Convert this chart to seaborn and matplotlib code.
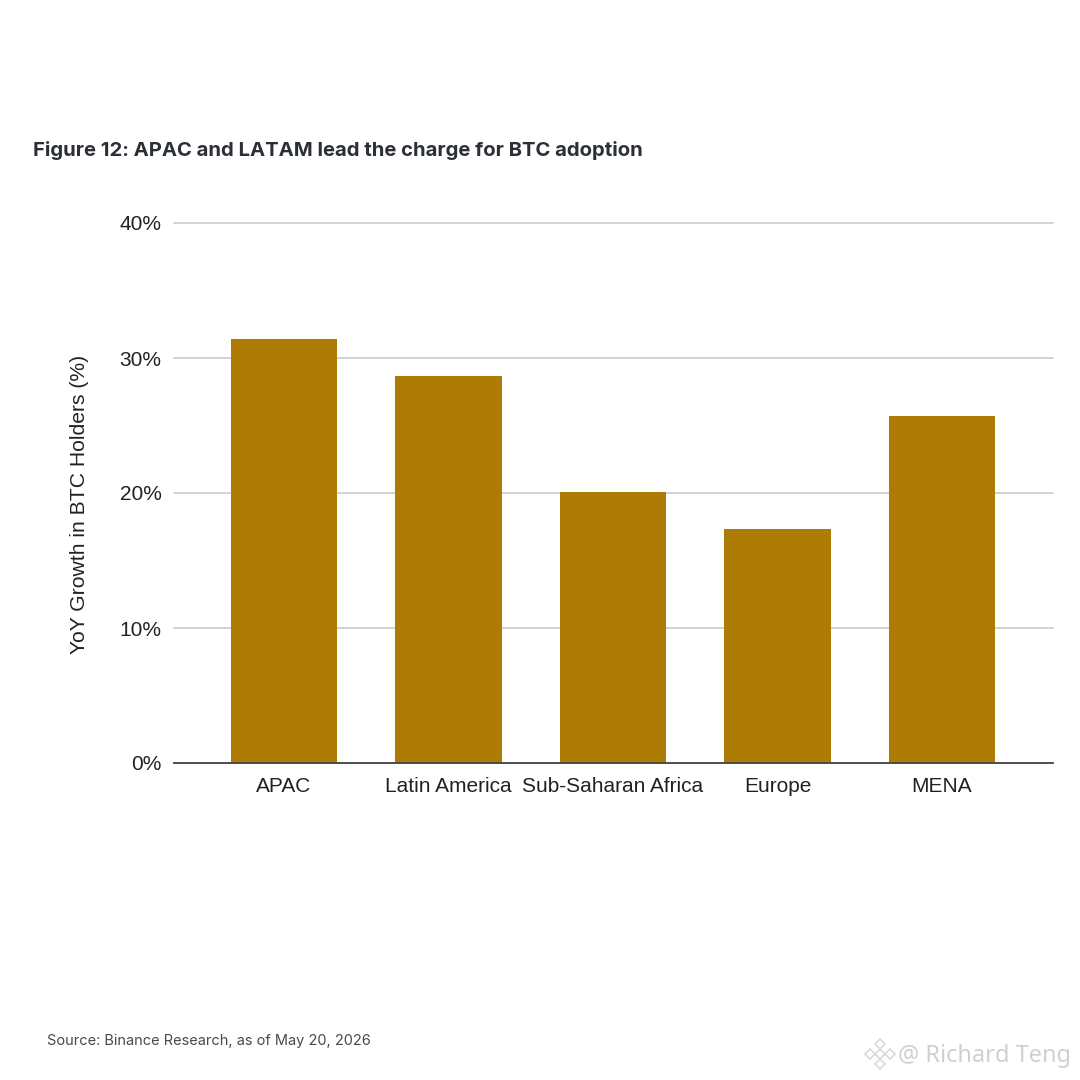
import seaborn as sns
import matplotlib.pyplot as plt
from matplotlib.lines import Line2D
import pandas as pd

regions = ['APAC', 'Latin America', 'Sub-Saharan Africa', 'Europe', 'MENA']
growth = [31.4, 28.7, 20.1, 17.35, 25.7]
y_ticks = [0, 10, 20, 30, 40]
y_labels = ['0%', '10%', '20%', '30%', '40%']

sns.set_theme(style='white')
plt.rcParams['font.family'] = ['Liberation Sans', 'DejaVu Sans']

df = pd.DataFrame({'region': regions, 'growth': growth})

fig = plt.figure(figsize=(10.8, 10.8), dpi=100)
# plot area in figure pixels: x 174-1053, y 223-763
ax = fig.add_axes([174 / 1080, 1 - 763 / 1080, 879 / 1080, 540 / 1080])

sns.barplot(data=df, x='region', y='growth', color='#AE7B05', saturation=1, width=0.65, linewidth=0, ax=ax)

ax.set_ylim(0, 40)
ax.set_xlim(-0.669, 4.675)
ax.set_yticks(y_ticks)
ax.set_yticklabels(y_labels, fontsize=15, color='#222222')
ax.tick_params(axis='x', labelsize=15, labelcolor='#222222', pad=10, length=0)
ax.tick_params(axis='y', length=0, pad=9)
ax.grid(axis='y', color='#CFCFCF', linewidth=1.3, clip_on=False)
ax.set_axisbelow(True)
ax.set_xlabel('')
ax.set_ylabel('YoY Growth in BTC Holders (%)', fontsize=15.2, color='#222222')
ax.yaxis.set_label_coords(-85 / 879, 0.479)
sns.despine(ax=ax, left=True)
ax.spines['bottom'].set_color('#444444')
ax.spines['bottom'].set_linewidth(1.3)

fig.text(33 / 1080, 1 - 151 / 1080, 'Figure 12: APAC and LATAM lead the charge for BTC adoption',
         fontsize=14.6, fontweight='bold', color='#2B2F36', va='center', family=['Inter', 'DejaVu Sans'])
fig.text(47 / 1080, 1 - 1041 / 1080, 'Source: Binance Research, as of May 20, 2026',
         fontsize=10.5, color='#4A4A4A', va='center', family=['Inter', 'DejaVu Sans'])
fig.text(898 / 1080, 1 - 1056 / 1080, '@ Richard Teng', fontsize=17, color='#D0D0D0', va='center',
         family=['Noto Sans', 'DejaVu Sans'])

# watermark logo, small diamonds around a centre one
logo_x = [880, 880, 870, 890, 880]
logo_y = [1044, 1064, 1054, 1054, 1054]
for px, py in zip(logo_x, logo_y):
    fig.add_artist(Line2D([px / 1080], [1 - py / 1080], marker='D', markersize=5, markerfacecolor='none',
                          markeredgecolor='#DADADA', markeredgewidth=1.2, linestyle='none',
                          transform=fig.transFigure))

fig.savefig('out.png', dpi=100, facecolor='white')
